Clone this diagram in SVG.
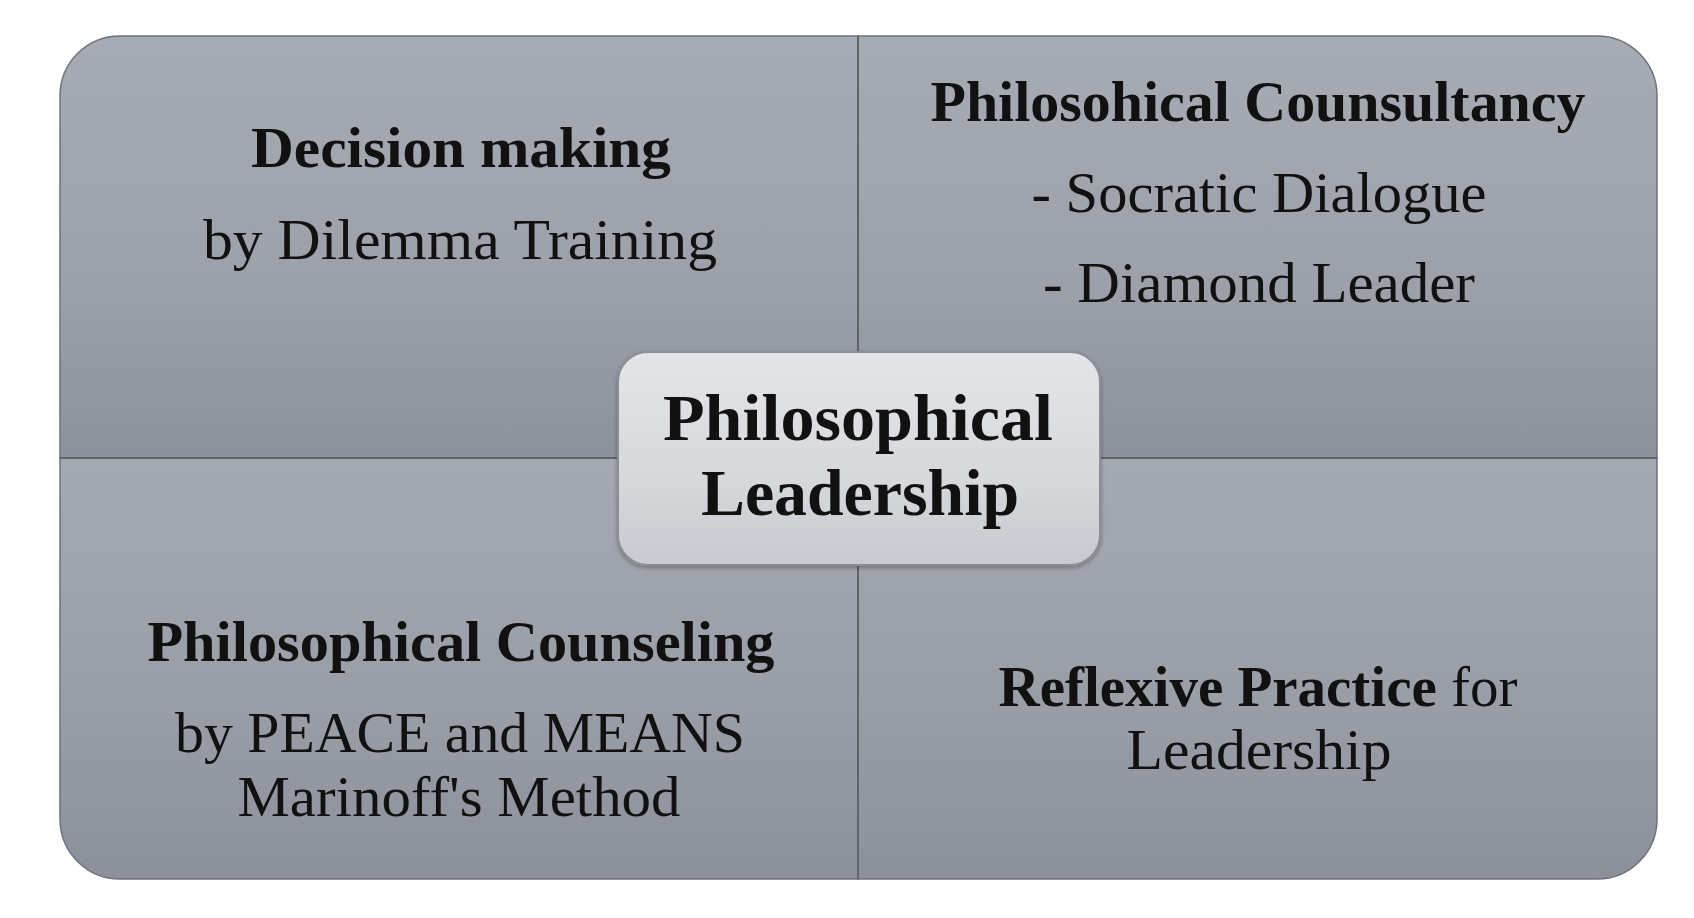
<svg xmlns="http://www.w3.org/2000/svg" width="1694" height="918" viewBox="0 0 1694 918">
<defs>
<linearGradient id="gTop" x1="0" y1="0" x2="0" y2="1">
<stop offset="0" stop-color="#a7abb4"/>
<stop offset="0.6" stop-color="#9ca0a9"/>
<stop offset="1" stop-color="#8c919b"/>
</linearGradient>
<linearGradient id="gBot" x1="0" y1="0" x2="0" y2="1">
<stop offset="0" stop-color="#a5a9b2"/>
<stop offset="0.6" stop-color="#999da6"/>
<stop offset="1" stop-color="#8b909a"/>
</linearGradient>
<linearGradient id="gCenter" x1="0" y1="0" x2="0" y2="1">
<stop offset="0" stop-color="#e4e5e8"/>
<stop offset="0.6" stop-color="#d6d8dc"/>
<stop offset="1" stop-color="#c7cacf"/>
</linearGradient>
<filter id="sh" x="-10%" y="-10%" width="120%" height="130%">
<feDropShadow dx="0" dy="2" stdDeviation="2" flood-color="#000" flood-opacity="0.3"/>
</filter>
</defs>
<style>
.quad{stroke:#6e737b;stroke-width:1.5}
.t{font-family:"Liberation Serif","Times New Roman",serif;font-size:57px;fill:#111;text-anchor:middle}
.b{font-weight:bold}
.c{font-family:"Liberation Serif","Times New Roman",serif;font-size:66px;font-weight:bold;fill:#111;text-anchor:middle}
</style>
<rect width="1694" height="918" fill="#ffffff"/>
<g id="quad-top-left">
<path class="quad" fill="url(#gTop)" d="M60,458 V96 A60,60 0 0 1 120,36 H858 V458 Z"/>
<text class="t b" x="461" y="167" textLength="420" lengthAdjust="spacingAndGlyphs">Decision making</text>
<text class="t" x="460" y="259" textLength="514" lengthAdjust="spacingAndGlyphs">by Dilemma Training</text>
</g>
<g id="quad-top-right">
<path class="quad" fill="url(#gTop)" d="M858,36 H1597 A60,60 0 0 1 1657,96 V458 H858 Z"/>
<text class="t b" x="1258" y="121" textLength="655" lengthAdjust="spacingAndGlyphs">Philosohical Counsultancy</text>
<text class="t" x="1259" y="212" textLength="455" lengthAdjust="spacingAndGlyphs">- Socratic Dialogue</text>
<text class="t" x="1259" y="302" textLength="432" lengthAdjust="spacingAndGlyphs">- Diamond Leader</text>
</g>
<g id="quad-bottom-left">
<path class="quad" fill="url(#gBot)" d="M60,458 H858 V879 H120 A60,60 0 0 1 60,819 Z"/>
<text class="t b" x="461" y="661" textLength="627" lengthAdjust="spacingAndGlyphs">Philosophical Counseling</text>
<text class="t" x="460" y="752" textLength="570" lengthAdjust="spacingAndGlyphs">by PEACE and MEANS</text>
<text class="t" x="459" y="816" textLength="443" lengthAdjust="spacingAndGlyphs">Marinoff's Method</text>
</g>
<g id="quad-bottom-right">
<path class="quad" fill="url(#gBot)" d="M858,458 H1657 V819 A60,60 0 0 1 1597,879 H858 Z"/>
<text class="t" x="1258" y="706" textLength="519" lengthAdjust="spacingAndGlyphs"><tspan class="b">Reflexive Practice</tspan> for</text>
<text class="t" x="1259" y="769" textLength="265" lengthAdjust="spacingAndGlyphs">Leadership</text>
</g>
<g id="connectors" stroke="#5f636a" stroke-width="2" fill="none">
<line x1="858" y1="36" x2="858" y2="879"/>
<line x1="60" y1="458" x2="1657" y2="458"/>
</g>
<g id="center">
<rect x="618" y="352" width="482" height="213" rx="30" ry="30" fill="url(#gCenter)" stroke="#8a8e95" stroke-width="2" filter="url(#sh)"/>
<text class="c" x="858" y="440" textLength="390" lengthAdjust="spacingAndGlyphs">Philosophical</text>
<text class="c" x="860" y="515" textLength="318" lengthAdjust="spacingAndGlyphs">Leadership</text>
</g>
</svg>
